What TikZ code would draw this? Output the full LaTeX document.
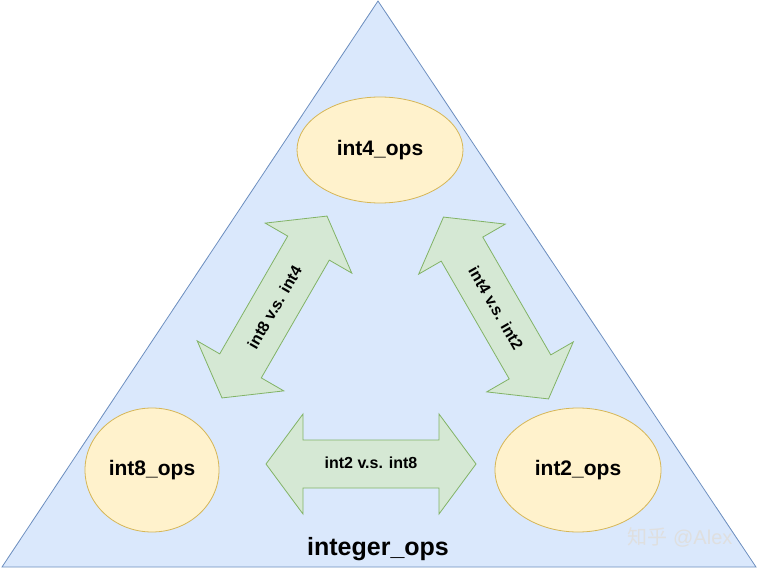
\documentclass[tikz,border=0pt]{standalone}
\usepackage{fontspec}
\setmainfont{Liberation Sans}
\newfontfamily\cjk{Noto Sans CJK SC}
\usetikzlibrary{shapes.geometric}
\definecolor{tfill}{HTML}{DAE8FC}\definecolor{tdraw}{HTML}{6C8EBF}
\definecolor{efill}{HTML}{FFF2CC}\definecolor{edraw}{HTML}{D6B656}
\definecolor{afill}{HTML}{D5E8D4}\definecolor{adraw}{HTML}{82B366}
\tikzset{
 opsnode/.style={ellipse,draw=edraw,fill=efill,line width=0.8pt,font=\bfseries\fontsize{21}{24}\selectfont},
 arrshape/.style={draw=adraw,fill=afill,line width=0.8pt},
 arrlabel/.style={font=\bfseries\fontsize{16}{18}\selectfont}
}
\newcommand{\dblarrow}[3]{% center, angle, half length
 \begin{scope}[shift={#1},rotate=#2]
 \draw[arrshape] (-#3,0) -- (-#3+37,50) -- (-#3+37,24) -- (#3-37,24) -- (#3-37,50) -- (#3,0) -- (#3-37,-50) -- (#3-37,-24) -- (-#3+37,-24) -- (-#3+37,-50) -- cycle;
 \end{scope}}
\begin{document}
\begin{tikzpicture}[x=1pt,y=-1pt]
\useasboundingbox (0,0) rectangle (758,569);
\fill[white] (0,0) rectangle (758,569);
\draw[fill=tfill,draw=tdraw,line width=0.8pt] (378,1) -- (756,567) -- (2,567) -- cycle;
\node[opsnode,minimum width=166,minimum height=106] (i4) at (380,150) {int4\_ops};
\node[opsnode,minimum width=134,minimum height=124] (i8) at (152,470) {int8\_ops};
\node[opsnode,minimum width=166,minimum height=124] (i2) at (578,470) {int2\_ops};
\dblarrow{(371,464)}{0}{105}
\node[arrlabel] (l28) at (371,463) {int2 v.s. int8};
\dblarrow{(274.5,307)}{60}{105}
\node[arrlabel,rotate=60] (l84) at (274.5,307) {int8 v.s. int4};
\dblarrow{(496,308)}{-60}{105}
\node[arrlabel,rotate=-60] (l42) at (496,308) {int4 v.s. int2};
\node[font=\bfseries\fontsize{25}{28}\selectfont] (top) at (378,549) {integer\_ops};
\node[text=white!75!gray,font=\fontsize{20}{24}\selectfont] (wm) at (680,537) {{\cjk 知乎} @Alex};
\end{tikzpicture}
\end{document}
